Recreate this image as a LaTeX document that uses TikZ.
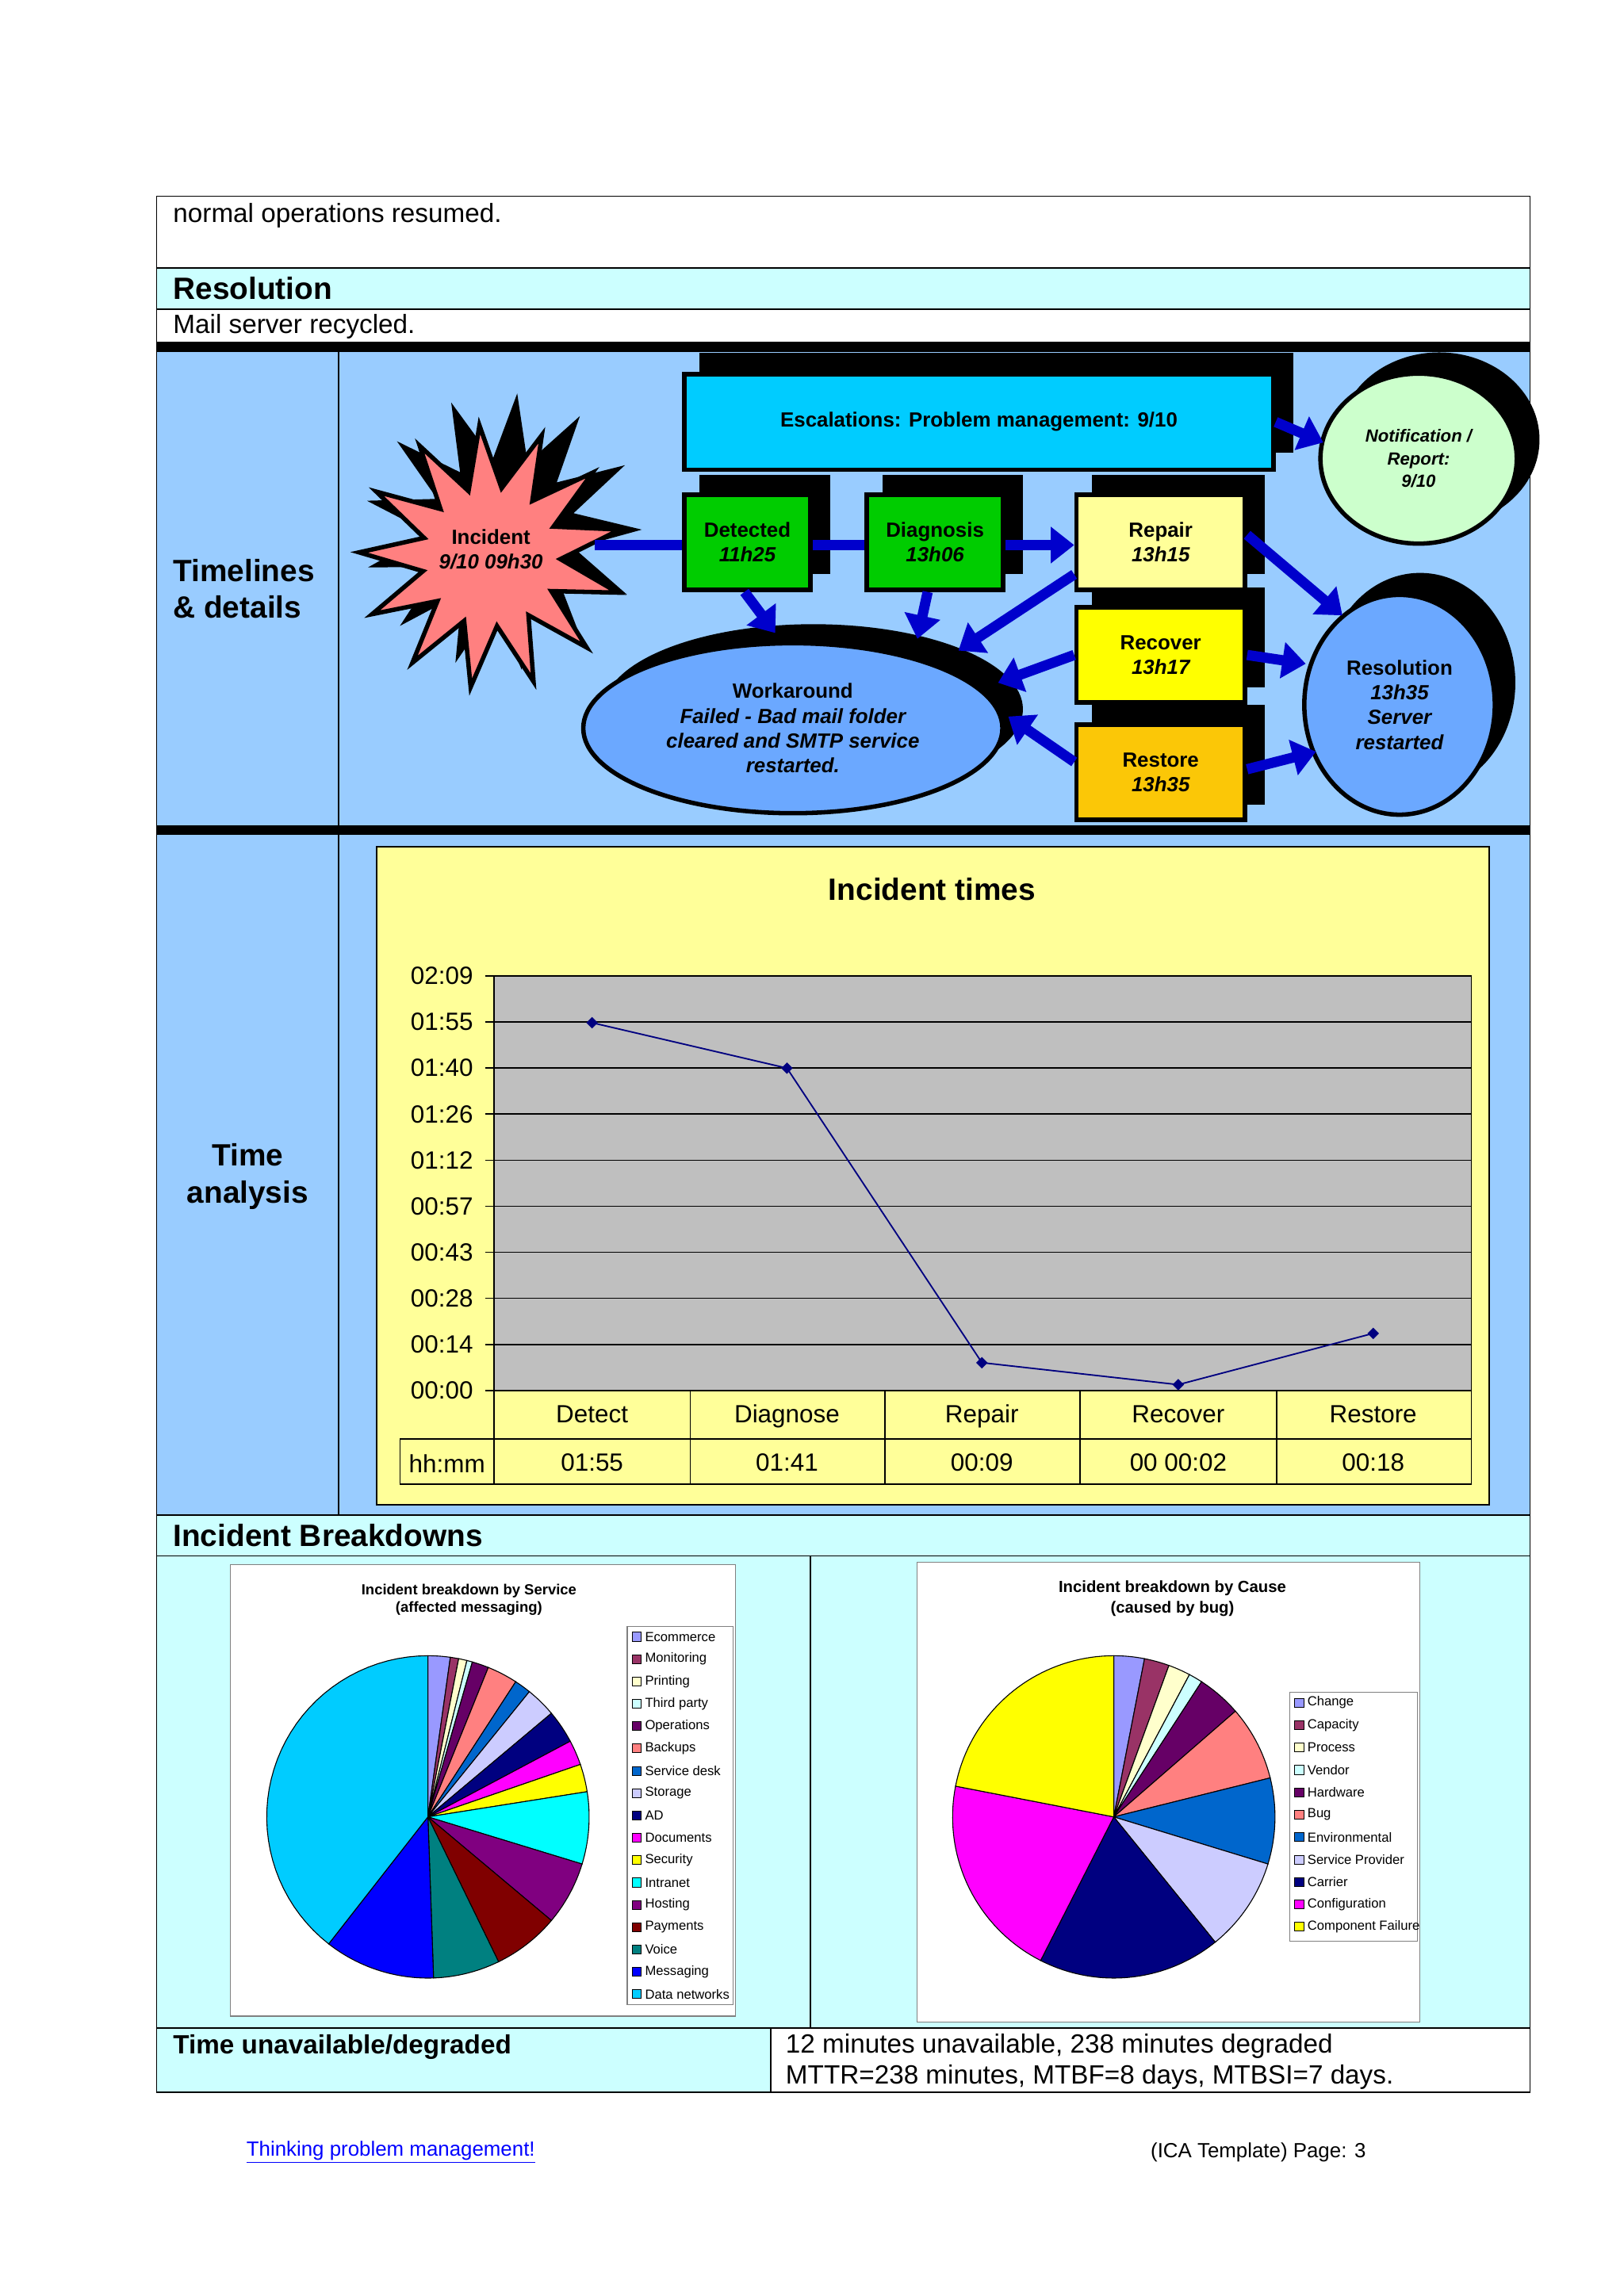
\documentclass[tikz,border=0pt]{standalone}
\usepackage{fontspec}
\setmainfont{Liberation Sans}
\usetikzlibrary{arrows.meta,shapes.geometric}
\definecolor{cyanbg}{HTML}{CCFFFF}
\definecolor{bluebg}{HTML}{99CCFF}
\definecolor{chartyel}{HTML}{FFFF99}
\definecolor{arrblue}{HTML}{0000CC}
\definecolor{notegreen}{HTML}{CCFFCC}
\definecolor{c1}{HTML}{9999FF}\definecolor{c2}{HTML}{993366}\definecolor{c3}{HTML}{FFFFCC}
\definecolor{c4}{HTML}{CCFFFF}\definecolor{c5}{HTML}{660066}\definecolor{c6}{HTML}{FF8080}
\definecolor{c7}{HTML}{0066CC}\definecolor{c8}{HTML}{CCCCFF}\definecolor{c9}{HTML}{000080}
\definecolor{c10}{HTML}{FF00FF}\definecolor{c11}{HTML}{FFFF00}\definecolor{c12}{HTML}{00FFFF}
\definecolor{c13}{HTML}{800080}\definecolor{c14}{HTML}{800000}\definecolor{c15}{HTML}{008080}
\definecolor{c16}{HTML}{0000FF}\definecolor{c17}{HTML}{00CCFF}
\newcommand\myslice[5]{\filldraw[fill=#5,draw=black,line width=0.6pt] (#1,#2) -- plot[domain=#3:#4,samples=40] ({#1+110*sin(\x)},{#2-110*cos(\x)}) -- cycle;}
\begin{document}
\begin{tikzpicture}[x=1pt,y=-1pt,
  txt/.style={font=\fontsize{18}{21}\selectfont,inner sep=0pt},
  hd/.style={font=\fontsize{21}{25}\selectfont\bfseries,inner sep=0pt},
  tbox/.style={draw=black,line width=3pt,minimum width=#1,font=\fontsize{14}{17}\selectfont\bfseries,align=center,inner sep=0pt},
  shad/.style={fill=black,draw=black,line width=3pt,minimum width=#1,inner sep=0pt},
  arr/.style={arrblue,line width=7pt,-{Triangle[length=16pt,width=24pt]}},
  arrn/.style={arrblue,line width=7pt},
  tick/.style={font=\fontsize{17}{20}\selectfont,inner sep=0pt},
  leg/.style={font=\fontsize{9}{11}\selectfont,inner sep=0pt,anchor=west},
  ptitle/.style={font=\fontsize{10}{12}\selectfont\bfseries,align=center,inner sep=0pt}]
\useasboundingbox (0,0) rectangle (1108,1567);
\fill[white] (0,0) rectangle (1108,1567);
% table backgrounds
\fill[cyanbg] (107,183) rectangle (1044,211);
\fill[bluebg] (107,234) rectangle (1044,1034);
\fill[cyanbg] (107,1034) rectangle (1044,1384);
\fill[cyanbg] (107,1384) rectangle (526,1428);
\draw[line width=0.8pt] (107,134) rectangle (1044,1428);
\foreach \yy in {183,211,1034,1062,1384} \draw[line width=0.8pt] (107,\yy) -- (1044,\yy);
\fill[black] (107,233) rectangle (1044,240);
\fill[black] (107,563) rectangle (1044,570);
\draw[line width=0.8pt] (231,240) -- (231,1034);
\draw[line width=0.8pt] (553,1062) -- (553,1384);
\draw[line width=0.8pt] (526,1384) -- (526,1428);
\node[txt,anchor=west] (t1) at (118,147) {normal operations resumed.};
\node[hd,anchor=west] (t2) at (118,197) {Resolution};
\node[txt,anchor=west] (t3) at (118,223) {Mail server recycled.};
\node[hd,anchor=west,align=left] (t4) at (118,402) {Timelines\\\& details};
\node[hd,align=center] (t5) at (169,803) {Time\\analysis};
\node[hd,anchor=west] (t6) at (118,1048) {Incident Breakdowns};
\node[txt,anchor=west,font=\fontsize{18}{21}\selectfont\bfseries] (t7) at (118,1397) {Time unavailable/degraded};
\node[txt,anchor=north west,align=left] (t8) at (536,1388) {12 minutes unavailable, 238 minutes degraded\\MTTR=238 minutes, MTBF=8 days, MTBSI=7 days.};
\node[anchor=west,inner sep=0pt,text=blue,font=\fontsize{14}{17}\selectfont] (f1) at (168,1469) {\underline{Thinking problem management!}};
\node[anchor=west,inner sep=0pt,font=\fontsize{14}{17}\selectfont] (f2) at (785,1469) {(ICA Template) Page: 3};
% ---- timeline diagram
\node[shad=402,minimum height=65] (escs) at (680,275) {};
\node[tbox=402,minimum height=65,fill=c17] (esc) at (668,288) {Escalations: Problem management: 9/10};
\node[ellipse,fill=black,draw=black,line width=3pt,minimum width=134,minimum height=116] (nots) at (982,300) {};
\node[ellipse,fill=notegreen,draw=black,line width=3pt,minimum width=134,minimum height=116,font=\fontsize{12}{15.5}\selectfont\bfseries\itshape,align=center,inner sep=0pt] (note) at (968,313) {Notification /\\Report:\\9/10};
\node[star,star points=13,star point ratio=1.9,fill=black,minimum size=190,inner sep=0pt,rotate=-6] (incs) at (343,363) {};
\node[star,star points=13,star point ratio=1.9,fill=c6,draw=black,line width=3pt,minimum size=180,inner sep=0pt,rotate=5] (inc) at (335,380) {};
\node[font=\fontsize{14}{17}\selectfont\bfseries,align=center,inner sep=0pt] (inct) at (335,375) {Incident\\\itshape 9/10 09h30};
\node[ellipse,fill=black,minimum width=286,minimum height=116] (works) at (555,484) {};
\node[ellipse,draw=black,line width=3pt,fill=c1!70!c17,minimum width=286,minimum height=116,font=\fontsize{14}{17}\selectfont\bfseries,align=center,inner sep=0pt] (work) at (541,497) {Workaround\\\itshape Failed - Bad mail folder\\\itshape cleared and SMTP service\\\itshape restarted.};
\node[ellipse,fill=black,minimum width=130,minimum height=150] (ress) at (969,466) {};
\node[ellipse,draw=black,line width=3pt,fill=c1!70!c17,minimum width=130,minimum height=150,font=\fontsize{14}{17}\selectfont\bfseries,align=center,inner sep=0pt] (res) at (955,481) {Resolution\\\itshape 13h35\\\itshape Server\\\itshape restarted};
\foreach \nm/\cx/\w in {det/510/86,dia/638/93,rep/792/115} \node[shad=\w,minimum height=65] (\nm s) at (\cx+12,358) {};
\foreach \nm/\cy in {rec/447,rst/527} \node[shad=115,minimum height=65] (\nm s) at (804,\cy-12) {};
\coordinate (incout) at (406,372);
\draw[arrn] (incout) -- (467,372);
\draw[arrn] (553,372) -- (592,372);
\node[tbox=86,minimum height=65,fill=green!80!black] (det) at (510,370) {Detected\\\itshape 11h25};
\node[tbox=93,minimum height=65,fill=green!80!black] (dia) at (638,370) {Diagnosis\\\itshape 13h06};
\node[tbox=115,minimum height=65,fill=chartyel] (rep) at (792,370) {Repair\\\itshape 13h15};
\node[tbox=115,minimum height=65,fill=c11] (rec) at (792,447) {Recover\\\itshape 13h17};
\node[tbox=115,minimum height=65,fill=yellow!60!orange] (rst) at (792,527) {Restore\\\itshape 13h35};
\draw[arr] (dia.east |- 0,372) -- (rep.west |- 0,372);
\draw[arr] ([xshift=-2pt]det.south) -- (529,432);
\draw[arr] ([xshift=-5pt]dia.south) -- (626,436);
\draw[arr] ([yshift=-22pt]rep.west) -- (654,444);
\draw[arr] (rec.west) -- (681,466);
\draw[arr] ([yshift=7pt]rst.west) -- (688,489);
\draw[arr] ([yshift=5pt]rep.east) -- (916,420);
\draw[arr] (rec.east) -- (891,453);
\draw[arr] ([yshift=2pt]rst.east) -- (898,513);
\draw[arr] (esc.east) -- (903,302);
% ---- chart
\draw[fill=chartyel,line width=1pt] (257,578) rectangle (1016,1027);
\node[hd] (ctitle) at (636,607) {Incident times};
\fill[gray!50] (337,666) rectangle (1004,949);
\foreach \lab [count=\i from 0] in {00:00,00:14,00:28,00:43,00:57,01:12,01:26,01:40,01:55,02:09} {
  \draw[line width=0.8pt] (331,{949-\i*283/9}) -- (1004,{949-\i*283/9});
  \node[tick,anchor=east] (yl\i) at (323,{949-\i*283/9}) {\lab};
}
\draw[line width=0.8pt] (337,666) rectangle (1004,949);
\draw[line width=1pt] (337,949) rectangle (1004,1013);
\draw[line width=1pt] (273,982) rectangle (337,1013);
\draw[line width=1pt] (337,982) -- (1004,982);
\foreach \xx in {471,604,737,871} \draw[line width=1pt] (\xx,949) -- (\xx,1013);
\foreach \lab/\val/\xx [count=\i] in {Detect/01:55/404,Diagnose/01:41/537,Repair/00:09/670,Recover/00 00:02/804,Restore/00:18/937} {
  \node[tick,anchor=base] (cl\i) at (\xx,971) {\lab};
  \node[tick,anchor=base] (cv\i) at (\xx,1004) {\val};
}
\node[tick,anchor=base] (hh) at (305,1005) {hh:mm};
\draw[c9,line width=1pt] (404,698) -- (537,729) -- (670,930) -- (804,945) -- (937,910);
\foreach \xx/\yy [count=\i] in {404/698,537/729,670/930,804/945,937/910}
  \node[diamond,fill=c9,minimum size=8pt,inner sep=0pt] (pt\i) at (\xx,\yy) {};
% ---- pie 1
\draw[fill=white,draw=gray,line width=0.6pt] (157,1068) rectangle (502,1376);
\node[ptitle] (p1t) at (320,1092) {Incident breakdown by Service\\(affected messaging)};
\foreach \a/\b/\c in {0/8/c1,8/11/c2,11/14/c3,14/16/c4,16/22/c5,22/33/c6,33/39/c7,39/50/c8,50/62/c9,62/71/c10,71/81/c11,81/107/c12,107/130/c13,130/154/c14,154/178/c15,178/218/c16,218/360/c17}
  \myslice{292}{1240}{\a}{\b}{\c}
\draw[fill=white,draw=gray,line width=0.6pt] (428,1110) rectangle (500,1368);
\foreach \n/\c [count=\i from 0] in {Ecommerce/c1,Monitoring/c2,Printing/c3,Third party/c4,Operations/c5,Backups/c6,Service desk/c7,Storage/c8,AD/c9,Documents/c10,Security/c11,Intranet/c12,Hosting/c13,Payments/c14,Voice/c15,Messaging/c16,Data networks/c17} {
  \draw[fill=\c,line width=0.4pt] (431.5,{1117+15.25*\i-3}) rectangle (437.5,{1117+15.25*\i+3});
  \node[leg] (la\i) at (440,{1117+15.25*\i}) {\n};
}
% ---- pie 2
\draw[fill=white,draw=gray,line width=0.6pt] (626,1066) rectangle (969,1380);
\node[ptitle,font=\fontsize{11}{14}\selectfont\bfseries] (p2t) at (800,1091) {Incident breakdown by Cause\\(caused by bug)};
\foreach \a/\b/\c in {0/11/c1,11/20/c2,20/28/c3,28/33/c4,33/49/c5,49/76/c6,76/107/c7,107/141/c8,141/207/c9,207/281/c10,281/360/c11}
  \myslice{760}{1240}{\a}{\b}{\c}
\draw[fill=white,draw=gray,line width=0.6pt] (880,1155) rectangle (967,1325);
\foreach \n/\c [count=\i from 0] in {Change/c1,Capacity/c2,Process/c3,Vendor/c4,Hardware/c5,Bug/c6,Environmental/c7,Service Provider/c8,Carrier/c9,Configuration/c10,Component Failure/c11} {
  \draw[fill=\c,line width=0.4pt] (883.5,{1162+15.3*\i-3}) rectangle (889.5,{1162+15.3*\i+3});
  \node[leg] (lb\i) at (892,{1162+15.3*\i}) {\n};
}
\end{tikzpicture}
\end{document}
